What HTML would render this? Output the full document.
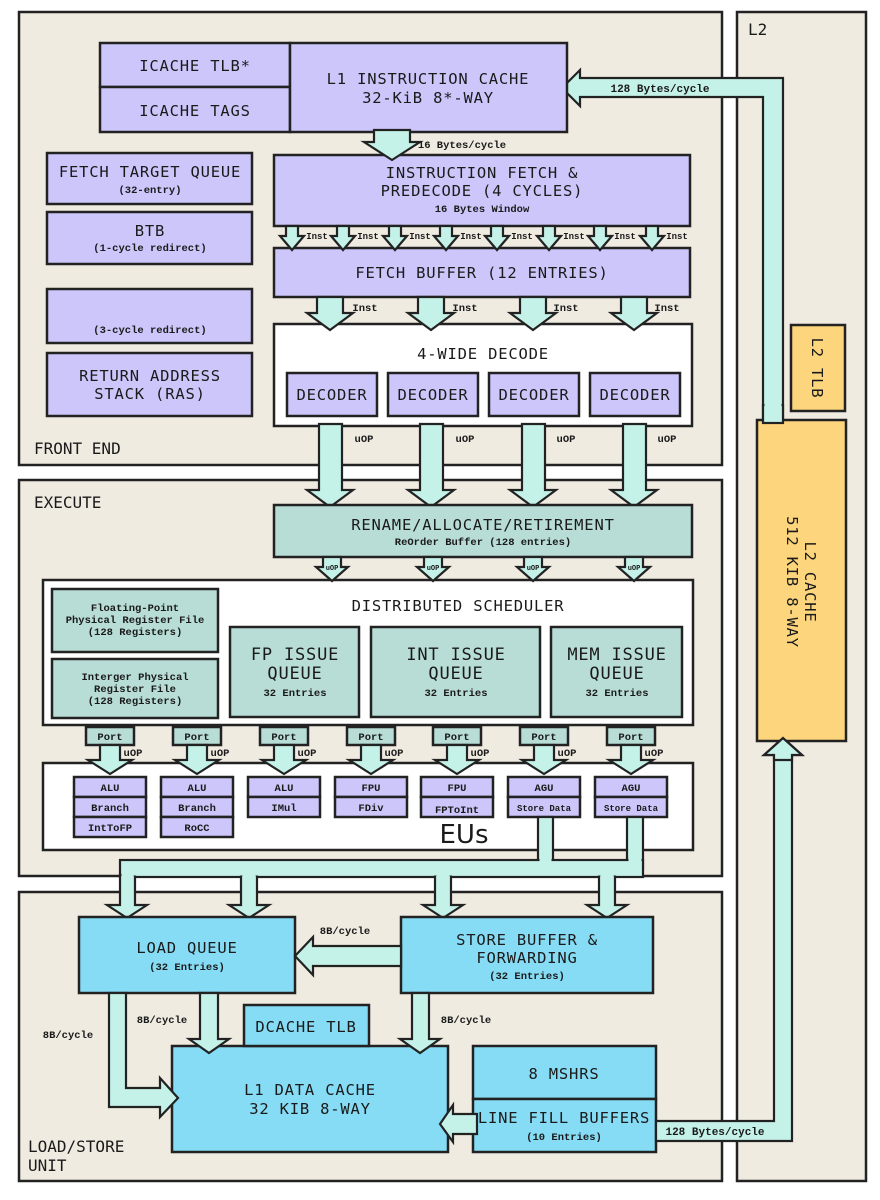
<!DOCTYPE html>
<html><head><meta charset="utf-8"><style>
html,body{margin:0;padding:0;background:#fff}
svg{display:block}
text{font-family:"Liberation Mono",monospace;fill:#1a1a1a;text-anchor:middle}
.t{font-family:"DejaVu Sans Mono","Liberation Mono",monospace;font-size:15.5px;letter-spacing:0.8px}
.s{font-size:10.5px;font-weight:bold}
.xs{font-size:9px;font-weight:bold}
.lbl{font-family:"DejaVu Sans Mono","Liberation Mono",monospace;font-size:16px;text-anchor:start}
.p{fill:#cdc6fb;stroke:#222;stroke-width:2.5}
.g{fill:#b8ddd6;stroke:#222;stroke-width:2.5}
.b{fill:#86dcf4;stroke:#222;stroke-width:2.5}
.o{fill:#fcd57c;stroke:#222;stroke-width:2.5}
.w{fill:#fff;stroke:#222;stroke-width:2.5}
.bg{fill:#efebe1;stroke:#222;stroke-width:2.5}
.a{fill:#c4f2e8;stroke:#222;stroke-width:2.2;stroke-linejoin:miter}
.af{fill:#c4f2e8}
</style></head><body>
<svg width="880" height="1200" viewBox="0 0 880 1200" xmlns="http://www.w3.org/2000/svg">
<!-- panels -->
<rect class="bg" x="19" y="12" width="703" height="453"/>
<rect class="bg" x="737" y="12" width="129" height="1169"/>
<rect class="bg" x="19" y="480" width="703" height="396"/>
<rect class="bg" x="19" y="892" width="703" height="289"/>
<text class="lbl" x="748" y="35">L2</text>
<text class="lbl" x="34" y="454">FRONT END</text>
<text class="lbl" x="34" y="508">EXECUTE</text>
<text class="lbl" x="28" y="1152">LOAD/STORE</text>
<text class="lbl" x="28" y="1171">UNIT</text>

<!-- top 128B band -->
<polygon class="a" points="562,88 580,70 580,78 783,78 783,422 763,422 763,97 580,97 580,106"/>
<text class="s" x="660" y="92" style="font-size:11px">128 Bytes/cycle</text>

<!-- front end -->
<rect class="p" x="100" y="43" width="190" height="44"/>
<rect class="p" x="100" y="87" width="190" height="45"/>
<rect class="p" x="290" y="43" width="277" height="89"/>
<text class="t" x="195" y="71">ICACHE TLB*</text>
<text class="t" x="195" y="116">ICACHE TAGS</text>
<text class="t" x="428" y="84">L1 INSTRUCTION CACHE</text>
<text class="t" x="428" y="103">32-KiB 8*-WAY</text>

<rect class="p" x="47" y="153" width="205" height="51"/>
<text class="t" x="150" y="177">FETCH TARGET QUEUE</text>
<text class="s" x="150" y="193">(32-entry)</text>
<rect class="p" x="47" y="212" width="205" height="52"/>
<text class="t" x="150" y="236">BTB</text>
<text class="s" x="150" y="251">(1-cycle redirect)</text>
<rect class="p" x="47" y="289" width="205" height="54"/>
<text class="s" x="150" y="333">(3-cycle redirect)</text>
<rect class="p" x="47" y="353" width="205" height="63"/>
<text class="t" x="150" y="381">RETURN ADDRESS</text>
<text class="t" x="150" y="399">STACK (RAS)</text>

<rect class="p" x="274" y="155" width="416" height="71"/>
<polygon class="a" points="374,130 410,130 410,142 420,142 392,160 364,142 374,142"/>
<text class="s" x="462" y="148">16 Bytes/cycle</text>
<text class="t" x="482" y="178">INSTRUCTION FETCH &amp;</text>
<text class="t" x="482" y="196">PREDECODE (4 CYCLES)</text>
<text class="s" x="482" y="212">16 Bytes Window</text>

<rect class="p" x="274" y="248" width="416" height="49"/>
<text class="t" x="482" y="278">FETCH BUFFER (12 ENTRIES)</text>

<g>
<polygon class="a" points="286,226 298,226 298,236 304,236 292,250 280,236 286,236"/>
<polygon class="a" points="337,226 349,226 349,236 355,236 343,250 331,236 337,236"/>
<polygon class="a" points="389,226 401,226 401,236 407,236 395,250 383,236 389,236"/>
<polygon class="a" points="440,226 452,226 452,236 458,236 446,250 434,236 440,236"/>
<polygon class="a" points="491,226 503,226 503,236 509,236 497,250 485,236 491,236"/>
<polygon class="a" points="543,226 555,226 555,236 561,236 549,250 537,236 543,236"/>
<polygon class="a" points="594,226 606,226 606,236 612,236 600,250 588,236 594,236"/>
<polygon class="a" points="646,226 658,226 658,236 664,236 652,250 640,236 646,236"/>
<text class="xs" x="317" y="239">Inst</text><text class="xs" x="368" y="239">Inst</text>
<text class="xs" x="420" y="239">Inst</text><text class="xs" x="471" y="239">Inst</text>
<text class="xs" x="522" y="239">Inst</text><text class="xs" x="574" y="239">Inst</text>
<text class="xs" x="625" y="239">Inst</text><text class="xs" x="677" y="239">Inst</text>
</g>

<rect class="w" x="274" y="324" width="418" height="102"/>
<g>
<polygon class="a" points="317,297 343,297 343,313 353,313 330,330 307,313 317,313"/>
<polygon class="a" points="418,297 444,297 444,313 454,313 431,330 408,313 418,313"/>
<polygon class="a" points="520,297 546,297 546,313 556,313 533,330 510,313 520,313"/>
<polygon class="a" points="621,297 647,297 647,313 657,313 634,330 611,313 621,313"/>
<text class="s" x="365" y="311">Inst</text><text class="s" x="465" y="311">Inst</text>
<text class="s" x="566" y="311">Inst</text><text class="s" x="667" y="311">Inst</text>
</g>
<text class="t" x="483" y="359">4-WIDE DECODE</text>
<rect class="p" x="287" y="373" width="90" height="43"/>
<rect class="p" x="388" y="373" width="90" height="43"/>
<rect class="p" x="489" y="373" width="90" height="43"/>
<rect class="p" x="590" y="373" width="90" height="43"/>
<text class="t" x="332" y="400">DECODER</text><text class="t" x="433" y="400">DECODER</text>
<text class="t" x="534" y="400">DECODER</text><text class="t" x="635" y="400">DECODER</text>

<!-- uOP columns -->
<g>
<polygon class="a" points="319,424 342,424 342,490 353,490 330,507 307,490 319,490"/>
<polygon class="a" points="420,424 443,424 443,490 454,490 431,507 408,490 420,490"/>
<polygon class="a" points="522,424 545,424 545,490 556,490 533,507 510,490 522,490"/>
<polygon class="a" points="623,424 646,424 646,490 657,490 634,507 611,490 623,490"/>
<text class="s" x="364" y="442">uOP</text><text class="s" x="465" y="442">uOP</text>
<text class="s" x="566" y="442">uOP</text><text class="s" x="667" y="442">uOP</text>
</g>

<!-- execute -->
<rect class="g" x="274" y="505" width="418" height="52"/>
<text class="t" x="483" y="530">RENAME/ALLOCATE/RETIREMENT</text>
<text class="s" x="483" y="545">ReOrder Buffer (128 entries)</text>
<rect class="w" x="43" y="580" width="650" height="145"/>
<g>
<polygon class="a" points="323,557 341,557 341,567 348,567 332,581 316,567 323,567"/>
<polygon class="a" points="424,557 442,557 442,567 449,567 433,581 417,567 424,567"/>
<polygon class="a" points="524,557 542,557 542,567 549,567 533,581 517,567 524,567"/>
<polygon class="a" points="625,557 643,557 643,567 650,567 634,581 618,567 625,567"/>
<text x="332" y="570" style="font-size:7px;font-weight:bold">uOP</text>
<text x="433" y="570" style="font-size:7px;font-weight:bold">uOP</text>
<text x="533" y="570" style="font-size:7px;font-weight:bold">uOP</text>
<text x="634" y="570" style="font-size:7px;font-weight:bold">uOP</text>
</g>
<text class="t" x="458" y="611">DISTRIBUTED SCHEDULER</text>
<rect class="g" x="52" y="589" width="166" height="63"/>
<text class="s" x="135" y="611">Floating-Point</text>
<text class="s" x="135" y="623">Physical Register File</text>
<text class="s" x="135" y="635">(128 Registers)</text>
<rect class="g" x="52" y="659" width="166" height="59"/>
<text class="s" x="135" y="680">Interger Physical</text>
<text class="s" x="135" y="692">Register File</text>
<text class="s" x="135" y="704">(128 Registers)</text>
<rect class="g" x="230" y="627" width="129" height="90"/>
<rect class="g" x="371" y="627" width="169" height="90"/>
<rect class="g" x="551" y="627" width="131" height="90"/>
<text class="t" x="295" y="660" style="font-size:17px">FP ISSUE</text><text class="t" x="295" y="679" style="font-size:17px">QUEUE</text><text class="s" x="295" y="696">32 Entries</text>
<text class="t" x="456" y="660" style="font-size:17px">INT ISSUE</text><text class="t" x="456" y="679" style="font-size:17px">QUEUE</text><text class="s" x="456" y="696">32 Entries</text>
<text class="t" x="617" y="660" style="font-size:17px">MEM ISSUE</text><text class="t" x="617" y="679" style="font-size:17px">QUEUE</text><text class="s" x="617" y="696">32 Entries</text>

<rect class="w" x="43" y="763" width="650" height="87"/>
<!-- ports -->
<g>
<rect class="g" x="86" y="727" width="48" height="18"/><polygon class="a" points="100,745 120,745 120,760 132,760 110,774 88,760 100,760"/>
<rect class="g" x="173" y="727" width="48" height="18"/><polygon class="a" points="187,745 207,745 207,760 219,760 197,774 175,760 187,760"/>
<rect class="g" x="260" y="727" width="48" height="18"/><polygon class="a" points="274,745 294,745 294,760 306,760 284,774 262,760 274,760"/>
<rect class="g" x="347" y="727" width="48" height="18"/><polygon class="a" points="361,745 381,745 381,760 393,760 371,774 349,760 361,760"/>
<rect class="g" x="433" y="727" width="48" height="18"/><polygon class="a" points="447,745 467,745 467,760 479,760 457,774 435,760 447,760"/>
<rect class="g" x="520" y="727" width="48" height="18"/><polygon class="a" points="534,745 554,745 554,760 566,760 544,774 522,760 534,760"/>
<rect class="g" x="607" y="727" width="48" height="18"/><polygon class="a" points="621,745 641,745 641,760 653,760 631,774 609,760 621,760"/>
<text class="s" x="110" y="740">Port</text><text class="s" x="197" y="740">Port</text><text class="s" x="284" y="740">Port</text>
<text class="s" x="371" y="740">Port</text><text class="s" x="457" y="740">Port</text><text class="s" x="544" y="740">Port</text><text class="s" x="631" y="740">Port</text>
<text class="s" x="133" y="756">uOP</text><text class="s" x="220" y="756">uOP</text><text class="s" x="307" y="756">uOP</text>
<text class="s" x="394" y="756">uOP</text><text class="s" x="480" y="756">uOP</text><text class="s" x="567" y="756">uOP</text><text class="s" x="654" y="756">uOP</text>
</g>
<!-- EUs -->
<g>
<rect class="p" x="74" y="777" width="72" height="20"/><rect class="p" x="74" y="797" width="72" height="20"/><rect class="p" x="74" y="817" width="72" height="20"/>
<rect class="p" x="161" y="777" width="72" height="20"/><rect class="p" x="161" y="797" width="72" height="20"/><rect class="p" x="161" y="817" width="72" height="20"/>
<rect class="p" x="248" y="777" width="72" height="20"/><rect class="p" x="248" y="797" width="72" height="20"/>
<rect class="p" x="335" y="777" width="72" height="20"/><rect class="p" x="335" y="797" width="72" height="20"/>
<rect class="p" x="421" y="777" width="72" height="20"/><rect class="p" x="421" y="797" width="72" height="20"/>
<rect class="p" x="508" y="777" width="72" height="20"/><rect class="p" x="508" y="797" width="72" height="20"/>
<rect class="p" x="595" y="777" width="72" height="20"/><rect class="p" x="595" y="797" width="72" height="20"/>
<text class="s" x="110" y="791">ALU</text><text class="s" x="110" y="811">Branch</text><text class="s" x="110" y="831">IntToFP</text>
<text class="s" x="197" y="791">ALU</text><text class="s" x="197" y="811">Branch</text><text class="s" x="197" y="831">RoCC</text>
<text class="s" x="284" y="791">ALU</text><text class="s" x="284" y="811">IMul</text>
<text class="s" x="371" y="791">FPU</text><text class="s" x="371" y="811">FDiv</text>
<text class="s" x="457" y="791">FPU</text><text class="s" x="457" y="813">FPToInt</text>
<text class="s" x="544" y="791">AGU</text><text class="xs" x="544" y="811">Store Data</text>
<text class="s" x="631" y="791">AGU</text><text class="xs" x="631" y="811">Store Data</text>
</g>
<text x="464" y="843" style="font-size:26px;font-family:'DejaVu Sans','Liberation Sans',sans-serif">EUs</text>

<!-- AGU outputs to LSU -->
<g>
<rect class="a" x="538" y="817" width="15" height="52"/>
<rect class="a" x="627" y="817" width="16" height="52"/>
<rect class="a" x="120" y="860" width="523" height="17"/>
<polygon class="a" points="120,875 135,875 135,905 147,905 127,918 107,905 120,905"/>
<polygon class="a" points="241,875 257,875 257,905 269,905 249,918 229,905 241,905"/>
<polygon class="a" points="435,875 451,875 451,905 463,905 443,918 423,905 435,905"/>
<polygon class="a" points="599,875 615,875 615,905 627,905 607,918 587,905 599,905"/>
<rect class="af" x="539.5" y="855" width="12" height="20"/>
<rect class="af" x="628.5" y="855" width="13" height="20"/>
<rect class="af" x="121.5" y="861.5" width="520" height="14"/>
<rect class="af" x="121.5" y="870" width="12" height="10"/>
<rect class="af" x="242.5" y="870" width="13" height="10"/>
<rect class="af" x="436.5" y="870" width="13" height="10"/>
<rect class="af" x="600.5" y="870" width="13" height="10"/>
</g>

<!-- Load store -->
<rect class="b" x="79" y="917" width="216" height="76"/>
<text class="t" x="187" y="953">LOAD QUEUE</text>
<text class="s" x="187" y="970">(32 Entries)</text>
<rect class="b" x="401" y="917" width="252" height="76"/>
<text class="t" x="527" y="945">STORE BUFFER &amp;</text>
<text class="t" x="527" y="963">FORWARDING</text>
<text class="s" x="527" y="979">(32 Entries)</text>
<polygon class="a" points="401,946 313,946 313,937 295,956 313,975 313,966 401,966"/>
<text class="s" x="345" y="934">8B/cycle</text>

<rect class="b" x="172" y="1046" width="276" height="106"/>
<rect class="b" x="244" y="1005" width="125" height="41"/>
<text class="t" x="306" y="1032">DCACHE TLB</text>
<text class="t" x="310" y="1095">L1 DATA CACHE</text>
<text class="t" x="310" y="1114">32 KIB 8-WAY</text>
<polygon class="a" points="109,993 126,993 126,1088 160,1088 160,1078 178,1098 160,1117 160,1107 109,1107"/>
<text class="s" x="68" y="1038">8B/cycle</text>
<polygon class="a" points="200,993 218,993 218,1039 229,1039 209,1053 189,1039 200,1039"/>
<text class="s" x="162" y="1023">8B/cycle</text>
<polygon class="a" points="412,993 429,993 429,1039 440,1039 420,1053 400,1039 412,1039"/>
<text class="s" x="466" y="1023">8B/cycle</text>

<rect class="b" x="473" y="1046" width="183" height="53"/>
<rect class="b" x="473" y="1099" width="183" height="53"/>
<text class="t" x="564" y="1079">8 MSHRS</text>
<text class="t" x="564" y="1123">LINE FILL BUFFERS</text>
<text class="s" x="564" y="1140">(10 Entries)</text>
<polygon class="a" points="477,1114 453,1114 453,1105 440,1124 453,1142 453,1134 477,1134"/>

<!-- bottom 128B band -->
<polygon class="a" points="656,1121 774,1121 774,755 764,755 783,738 802,755 792,755 792,1141 656,1141"/>
<text class="s" x="715" y="1135" style="font-size:11px">128 Bytes/cycle</text>

<!-- L2 -->
<rect class="o" x="791" y="325" width="54" height="86"/>
<text class="t" transform="translate(812,368) rotate(90)">L2 TLB</text>
<rect class="o" x="757" y="420" width="89" height="321"/>
<rect class="a" x="763" y="405" width="20" height="18"/>
<rect class="af" x="764.5" y="400" width="17" height="21"/>
<text class="t" transform="translate(805,582) rotate(90)">L2 CACHE</text>
<text class="t" transform="translate(787,582) rotate(90)">512 KIB 8-WAY</text>
<polygon class="a" points="774,755 764,755 783,738 802,755 792,755 792,760 774,760"/>
</svg>
</body></html>
